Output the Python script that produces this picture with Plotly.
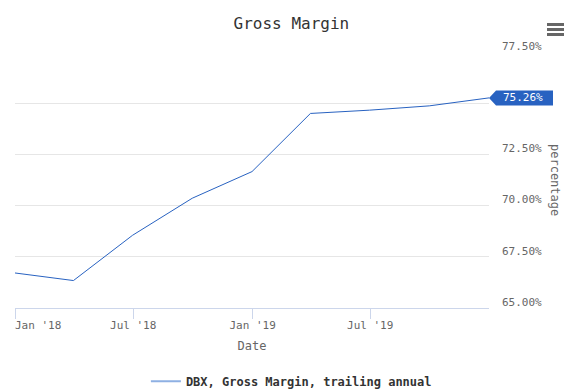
import plotly.graph_objects as go

DATES = ["2017-12-31", "2018-03-31", "2018-06-30", "2018-09-30", "2018-12-31",
         "2019-03-31", "2019-06-30", "2019-09-30", "2019-12-31"]
GROSS_MARGIN = [66.71, 66.34, 68.55, 70.36, 71.66, 74.50, 74.66, 74.87, 75.26]
SERIES_NAME = "DBX, Gross Margin, trailing annual"

X_TICKVALS = ["2018-01-01", "2018-07-01", "2019-01-01", "2019-07-01"]
X_TICKTEXT = ["Jan '18", "Jul '18", "Jan '19", "Jul '19"]
Y_TICKVALS = [65, 67.5, 70, 72.5, 75, 77.5]
Y_TICKTEXT = ["65.00%", "67.50%", "70.00%", "72.50%", "", "77.50%"]

LINE_COLOR = "#2862c1"
MONO = "DejaVu Sans Mono"
TICK_FONT = dict(family=MONO, size=11, color="#666666")

fig = go.Figure()
fig.add_trace(go.Scatter(
    x=DATES, y=GROSS_MARGIN, mode="lines",
    line=dict(color=LINE_COLOR, width=1),
    showlegend=False, hoverinfo="skip",
))
fig.add_trace(go.Scatter(
    x=[None], y=[None], mode="lines", name=SERIES_NAME,
    line=dict(color="#8eb0e3", width=2), showlegend=True,
))

# first x tick label is left-aligned at its tick (like the reference)
axis_ticktext = [""] + X_TICKTEXT[1:]
fig.add_annotation(
    xref="x", yref="paper", x=X_TICKVALS[0], y=0, xanchor="left", yanchor="middle",
    yshift=-17, xshift=-3, text=X_TICKTEXT[0], showarrow=False, font=TICK_FONT,
)

last = GROSS_MARGIN[-1]
# flag label on right axis
fig.add_shape(
    type="path", xref="paper", yref="y",
    xsizemode="pixel", ysizemode="pixel", xanchor=1, yanchor=last,
    path="M 0 0 L 7 7.5 L 64 7.5 L 64 -7.5 L 7 -7.5 Z",
    fillcolor=LINE_COLOR, line=dict(width=0), layer="above",
)
fig.add_annotation(
    xref="paper", yref="y", x=1, y=last, xanchor="center", yanchor="middle",
    xshift=34, text=f"{last:.2f}%", showarrow=False,
    font=dict(family=MONO, size=11, color="white"),
)
# y-axis title
fig.add_annotation(
    xref="paper", yref="paper", x=1, y=0.5, xanchor="center", yanchor="middle",
    xshift=66, text="percentage", textangle=90, showarrow=False,
    font=dict(family=MONO, size=12, color="#666666"),
)
# hamburger menu icon
for dy in (27.5, 22.5, 17.5):
    fig.add_shape(
        type="line", xref="paper", yref="paper",
        xsizemode="pixel", ysizemode="pixel", xanchor=1, yanchor=1,
        x0=58, x1=75, y0=dy, y1=dy,
        line=dict(color="#666666", width=3), layer="above",
    )

fig.update_layout(
    width=577, height=391,
    margin=dict(l=15, r=88, t=52, b=83),
    paper_bgcolor="white", plot_bgcolor="white",
    title=dict(text="Gross Margin", x=0.505, xref="container", y=0.94, yref="container",
               yanchor="middle", xanchor="center",
               font=dict(family=MONO, size=16, color="#333333")),
    xaxis=dict(
        type="date", range=[DATES[0], DATES[-1]], automargin=False,
        tickvals=X_TICKVALS, ticktext=axis_ticktext,
        ticks="outside", ticklen=10, tickcolor="#ccd6eb", tickwidth=1,
        showline=True, linecolor="#ccd6eb", linewidth=1,
        showgrid=False, zeroline=False, ticklabelstandoff=-3,
        tickfont=TICK_FONT,
        title=dict(text="Date", font=dict(family=MONO, size=12, color="#666666"), standoff=10),
    ),
    yaxis=dict(
        side="right", range=[65, 77.5], automargin=False,
        tickvals=Y_TICKVALS, ticktext=Y_TICKTEXT,
        gridcolor="#e6e6e6", gridwidth=1, showline=False, zeroline=False, ticks="",
        ticklabelshift=-6, ticklabelstandoff=12,
        tickfont=TICK_FONT,
    ),
    legend=dict(
        orientation="h", xref="container", yref="container",
        x=0.505, y=0.025, xanchor="center", yanchor="middle",
        font=dict(family=MONO, size=12, color="#333333", weight="bold"),
        bgcolor="rgba(0,0,0,0)",
    ),
    hovermode=False,
)

fig.write_html("out.html", config={"displayModeBar": False},
               post_script="document.body.style.margin='0';")
